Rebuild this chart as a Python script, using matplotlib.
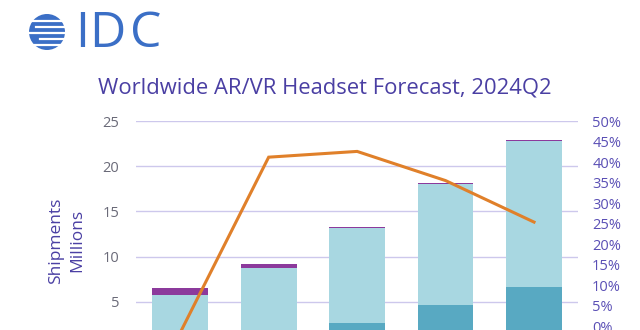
import numpy as np
import matplotlib.pyplot as plt
from matplotlib.patches import Circle
from matplotlib.ticker import FuncFormatter

# dados (milhões de unidades / crescimento anual)
anos = ["2024", "2025", "2026", "2027", "2028"]
seg_escuro = [0.4, 1.0, 2.65, 4.63, 6.66]
seg_claro = [5.34, 7.78, 10.54, 13.44, 16.09]
seg_roxo = [0.77, 0.44, 0.08, 0.10, 0.10]
crescimento = [-1.5, 41.2, 42.6, 35.5, 25.4]

cor_escuro = "#58a9c2"
cor_claro = "#a8d7e1"
cor_roxo = "#8c3a9c"
cor_linha = "#e0802a"
cor_titulo = "#4a3fa3"
cor_grade = "#cdc8ec"
cor_logo = "#3b6fc6"

plt.rcParams["font.family"] = ["Open Sans", "DejaVu Sans"]

fig = plt.figure(figsize=(6.4, 3.3), dpi=100, facecolor="white")

# ---- logo IDC ----
ax_logo = fig.add_axes([0, 0.8, 0.3, 0.2])
ax_logo.set_xlim(0, 192)
ax_logo.set_ylim(66, 0)
ax_logo.set_aspect("equal")
ax_logo.axis("off")
ax_logo.add_patch(Circle((47, 32), 18, color=cor_logo, lw=0))
for yy, x0 in zip([20.5, 26.5, 32.5, 38.5, 44.5], [26, 36, 28, 40, 27]):
    ax_logo.plot([x0, 70], [yy, yy], color="white", lw=1.6)
for letra, xl in zip(["I", "D", "C"], [75, 89, 130]):
    ax_logo.text(xl, 34, letra, fontsize=36, color=cor_logo, va="center",
                 ha="left")

# ---- título ----
fig.text(0.508, 0.733, "Worldwide AR/VR Headset Forecast, 2024Q2",
         ha="center", va="center", fontsize=15.8, color=cor_titulo)

# ---- gráfico principal ----
ax = fig.add_axes([0.2125, -0.0515, 0.691, 0.6848])
x = np.arange(len(anos))
largura = 0.63
base2 = np.array(seg_escuro)
base3 = base2 + np.array(seg_claro)
ax.bar(x, seg_escuro, largura, color=cor_escuro, zorder=2)
ax.bar(x, seg_claro, largura, bottom=base2, color=cor_claro, zorder=2)
ax.bar(x, seg_roxo, largura, bottom=base3, color=cor_roxo, zorder=2)

ax.set_xlim(-0.5, len(anos) - 0.5)
ax.set_ylim(0, 25)
ax.set_yticks([5, 10, 15, 20, 25])
ax.set_xticks(x)
ax.set_xticklabels([])
ax.grid(axis="y", color=cor_grade, lw=1, zorder=0)
ax.tick_params(axis="y", length=0, pad=12, labelsize=10.5, labelcolor="#6a6a78")
ax.tick_params(axis="x", length=0)
for s in ax.spines.values():
    s.set_visible(False)
ax.set_ylabel("Shipments\nMillions", color=cor_titulo, fontsize=12.5,
              linespacing=1.4)
ax.yaxis.set_label_coords(-0.115, 0.47)

ax2 = ax.twinx()
ax2.plot(x, crescimento, color=cor_linha, lw=2.2, zorder=3,
         solid_joinstyle="miter")
ax2.set_ylim(-5, 50)
ax2.set_yticks(np.arange(0, 51, 5))
ax2.yaxis.set_major_formatter(FuncFormatter(lambda v, p: f"{v:.0f}%"))
ax2.tick_params(axis="y", length=0, pad=10, labelsize=10.5,
                labelcolor="#5a4fb5")
for s in ax2.spines.values():
    s.set_visible(False)

fig.savefig("out.png", dpi=100, facecolor="white")
